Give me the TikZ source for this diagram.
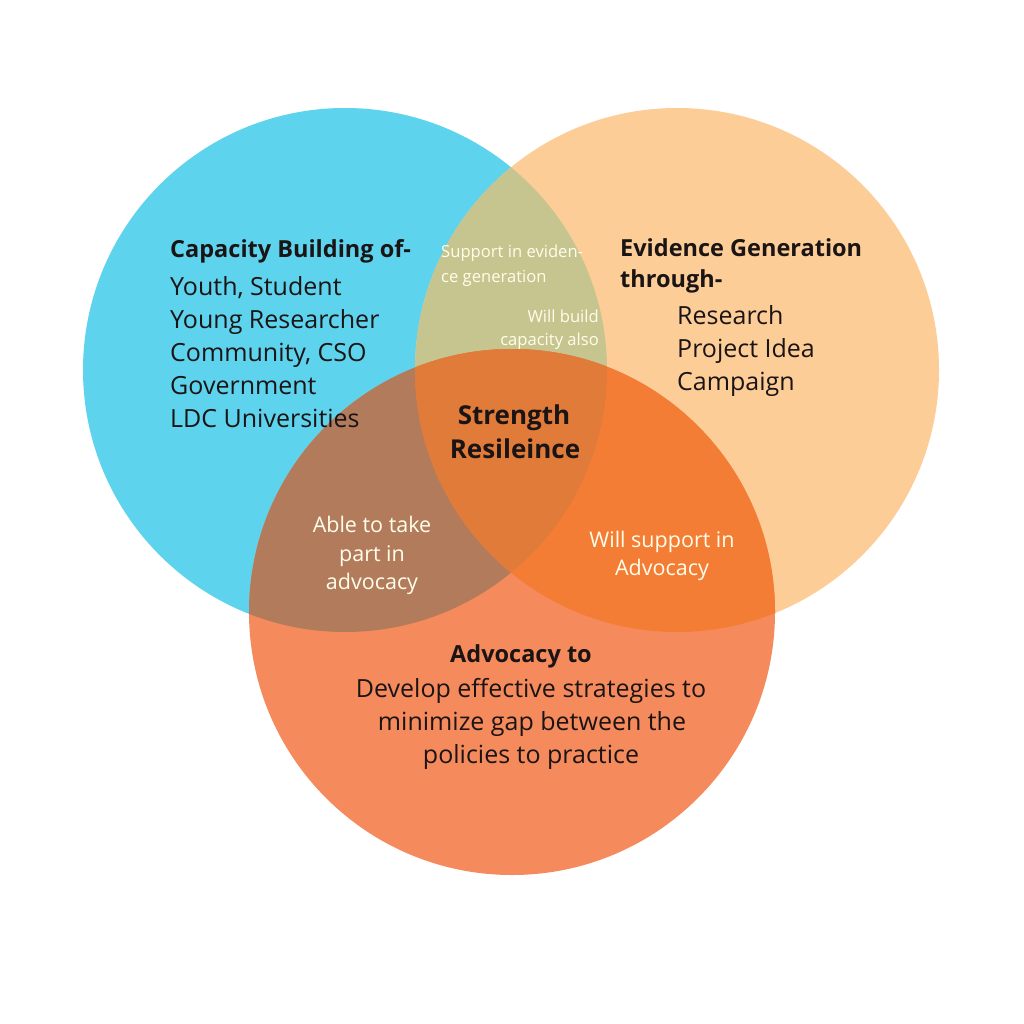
\documentclass[tikz,border=0pt]{standalone}
\usepackage{fontspec}
\setmainfont{Open Sans}
\definecolor{cblue}{HTML}{5ED3EE}
\definecolor{cpeach}{HTML}{FDCD98}
\definecolor{corange}{HTML}{F58B5C}
\definecolor{cbp}{HTML}{C7C58F}
\definecolor{cbo}{HTML}{B27C5C}
\definecolor{cpo}{HTML}{F47D36}
\definecolor{call}{HTML}{E07B3A}
\definecolor{ink}{HTML}{1A1414}
\begin{document}
\begin{tikzpicture}[x=1pt,y=-1pt,
  head/.style={font=\fontsize{23.5}{28}\selectfont\bfseries, text=ink, inner sep=0pt},
  body/.style={font=\fontsize{25}{30}\selectfont, text=ink, inner sep=0pt},
  wsmall/.style={font=\fontsize{16.6}{20}\selectfont, text=white!92!yellow, inner sep=0pt},
  wmid/.style={font=\fontsize{21.5}{26}\selectfont, text=white!92!yellow, inner sep=0pt}]
\fill[white] (0,0) rectangle (1024,1024);
\useasboundingbox (0,0) rectangle (1024,1024);
\def\B{(345,370) circle[radius=262]}
\def\P{(677,370) circle[radius=262]}
\def\O{(512,612) circle[radius=263]}
\fill[cblue] \B;
\fill[cpeach] \P;
\fill[corange] \O;
\begin{scope}\clip \B; \fill[cbp] \P; \end{scope}
\begin{scope}\clip \B; \fill[cbo] \O; \end{scope}
\begin{scope}\clip \P; \fill[cpo] \O; \end{scope}
\begin{scope}\clip \B; \clip \P; \fill[call] \O; \end{scope}

\node[head, anchor=base west] (cbh) at (170,257) {Capacity Building of-};
\node[body, anchor=base west] (cb1) at (170,295) {Youth, Student};
\node[body, anchor=base west] (cb2) at (170,328) {Young Researcher};
\node[body, anchor=base west] (cb3) at (170,361) {Community, CSO};
\node[body, anchor=base west] (cb4) at (170,394) {Government};
\node[body, anchor=base west] (cb5) at (170,427) {LDC Universities};

\node[head, anchor=base west] (egh) at (620,256) {Evidence Generation};
\node[head, anchor=base west] (egt) at (620,287) {through-};
\node[body, anchor=base west] (eg1) at (677,324) {Research};
\node[body, anchor=base west] (eg2) at (677,357) {Project Idea};
\node[body, anchor=base west] (eg3) at (677,390) {Campaign};

\node[wsmall, anchor=base west] (s1) at (441,258) {Support in eviden-};
\node[wsmall, anchor=base west] (s2) at (441,282) {ce generation};
\node[wsmall, anchor=base east] (w1) at (599,322) {Will build};
\node[wsmall, anchor=base east] (w2) at (599,345) {capacity also};

\node[head, font=\fontsize{26}{30}\selectfont\bfseries, anchor=base] (sr1) at (514,424) {Strength};
\node[head, font=\fontsize{26}{30}\selectfont\bfseries, anchor=base] (sr2) at (515,458) {Resileince};

\node[wmid, anchor=base] (ab1) at (372,532) {Able to take};
\node[wmid, anchor=base] (ab2) at (372,561) {part in};
\node[wmid, anchor=base] (ab3) at (372,589) {advocacy};
\node[wmid, anchor=base] (ws1) at (662,547) {Will support in};
\node[wmid, anchor=base] (ws2) at (662,575) {Advocacy};

\node[head, anchor=base] (adh) at (521,662) {Advocacy to};
\node[body, anchor=base] (ad1) at (531,697) {Develop effective strategies to};
\node[body, anchor=base] (ad2) at (532,730) {minimize gap between the};
\node[body, anchor=base] (ad3) at (531,763) {policies to practice};
\end{tikzpicture}
\end{document}
